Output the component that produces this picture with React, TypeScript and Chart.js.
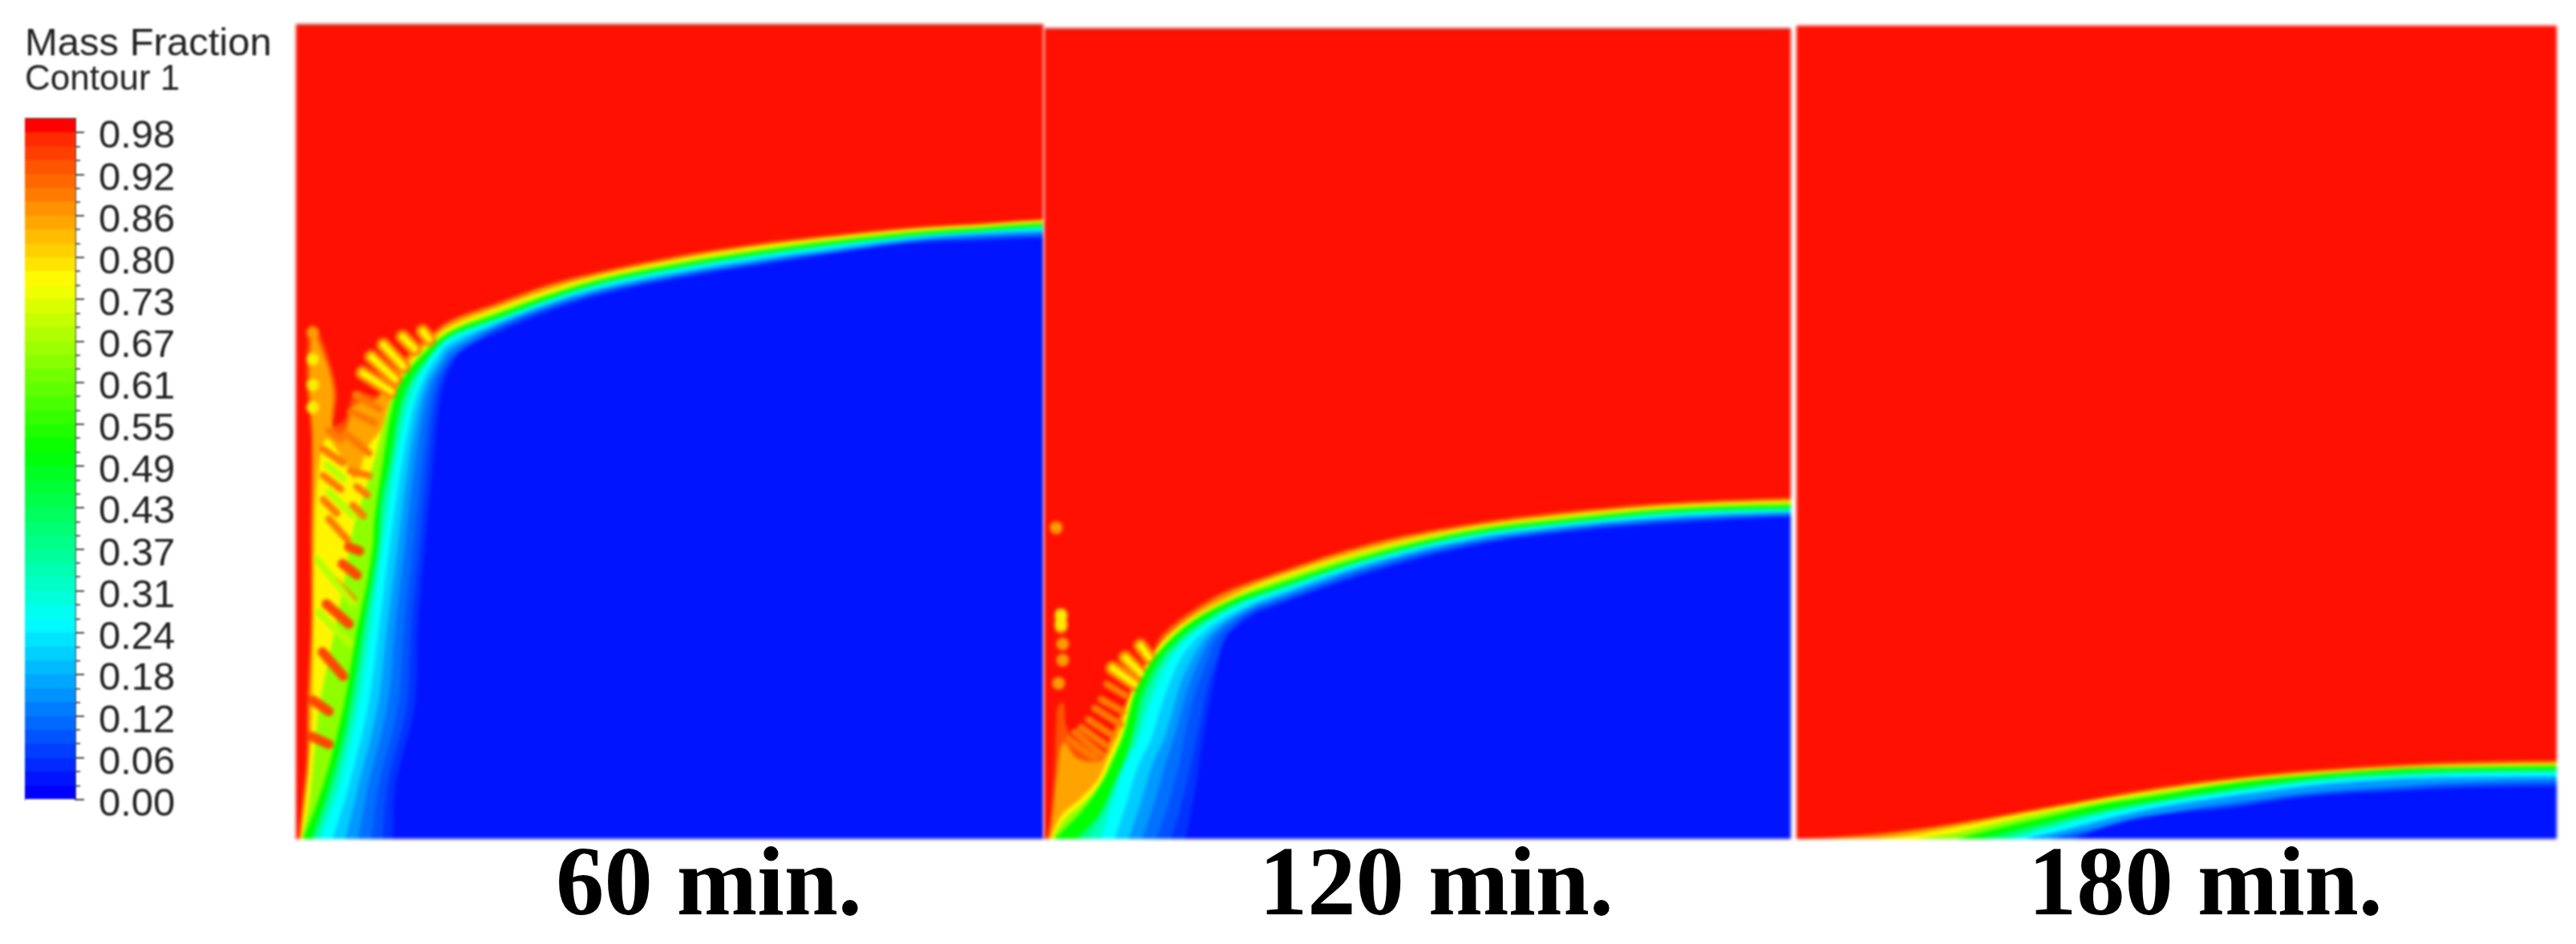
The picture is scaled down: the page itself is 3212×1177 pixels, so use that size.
import { useEffect, useRef } from 'react';
import { Chart, registerables } from 'chart.js';

Chart.register(...registerables);

type Pt = [number, number];

// colour value painted under each contour, from the outermost one inwards
const fullLevels = [0.92, 0.84, 0.76, 0.64, 0.5, 0.37, 0.31, 0.25, 0.2, 0.15, 0.11, 0.08, 0.05, 0.02];
const thinLevels = [0.92, 0.84, 0.76, 0.64, 0.5, 0.37, 0.25, 0.15, 0.08, 0.02];

// 60 min. contours, panel units measured from the bottom-left corner
const p1c97: Pt[] = [[3,1],[8,49],[13,99],[14,166],[18,266],[18,366],[19,499],[16,533],[13,566],[13,596],[16,636],[21,641],[31,626],[44,589],[51,556],[48,526],[46,516],[51,516],[61,523],[71,553],[78,559],[88,555],[101,553],[118,579],[131,594],[144,609],[161,623],[191,646],[251,669],[320,693],[385,709],[480,728],[579,743],[680,754],[773,763],[860,768],[933,773]];
const p1c88: Pt[] = [[5,1],[10,49],[15,99],[16,166],[20,266],[20,366],[21,499],[19,530],[17,560],[17,595],[20,625],[24,628],[31,612],[41,585],[47,555],[45,525],[48,505],[60,505],[72,540],[85,545],[101,548],[118,574],[131,590],[144,605],[161,620],[191,644],[251,666],[320,691],[385,707],[480,726],[579,741],[680,753],[773,762],[860,767],[933,772]];
const p1c78: Pt[] = [[6,1],[12,49],[17,99],[20,166],[22,266],[23,366],[27,450],[38,499],[61,469],[74,449],[90,490],[106,510],[113,533],[124,562],[141,594],[161,614],[191,638],[251,662],[320,686],[385,704],[480,723],[579,739],[680,751],[773,760],[860,766],[933,771]];
const p1c65: Pt[] = [[8,1],[17,49],[24,120],[30,170],[44,240],[60,320],[70,380],[88,440],[100,480],[110,520],[122,555],[138,585],[158,608],[191,634],[251,658],[320,682],[385,701],[480,720],[579,736],[680,749],[773,758],[860,764],[933,769]];
const p1c50: Pt[] = [[9,1],[28,49],[48,116],[63,183],[74,249],[88,316],[96,366],[98,399],[108,466],[119,533],[131,569],[158,603],[191,631],[251,654],[320,679],[385,698],[480,717],[579,733],[680,746],[773,756],[860,762],[933,767]];
const p1c37: Pt[] = [[20,1],[42,66],[64,150],[84,266],[102,366],[106,420],[116,466],[128,533],[141,569],[164,600],[191,627],[251,650],[320,675],[385,695],[480,714],[579,730],[680,743],[773,753],[860,759],[933,764]];
const p1c31: Pt[] = [[25,1],[48,66],[71,158],[89,266],[105,366],[110,410],[120,466],[133,533],[146,569],[166,600],[191,625],[251,648],[320,674],[385,693],[480,712],[579,728],[680,742],[773,752],[860,758],[933,762]];
const p1c25: Pt[] = [[31,1],[54,66],[78,166],[94,266],[108,366],[113,399],[124,466],[138,533],[151,569],[168,599],[191,623],[251,646],[320,672],[385,691],[480,710],[579,726],[680,740],[773,751],[860,757],[933,761]];
const p1c20: Pt[] = [[46,1],[66,66],[90,166],[104,266],[117,366],[132,466],[145,533],[157,569],[173,597],[191,618],[251,644],[320,670],[385,689],[480,708],[579,724],[680,738],[773,750],[860,756],[933,759]];
const p1c15: Pt[] = [[62,1],[78,66],[102,166],[114,266],[127,366],[140,466],[152,533],[163,569],[179,596],[191,612],[251,642],[320,668],[385,687],[480,706],[579,722],[680,736],[773,748],[860,754],[933,757]];
const p1c11: Pt[] = [[78,1],[90,66],[114,166],[124,266],[136,366],[148,466],[159,533],[169,569],[182,592],[195,609],[251,639],[320,666],[385,685],[480,704],[579,720],[680,734],[773,746],[860,752],[933,755]];
const p1c08: Pt[] = [[94,1],[103,66],[127,166],[135,266],[146,366],[157,466],[166,533],[175,569],[186,590],[198,604],[251,637],[320,664],[385,683],[480,702],[579,718],[680,733],[773,745],[860,750],[933,753]];
const p1c05: Pt[] = [[108,1],[114,66],[138,166],[144,266],[154,366],[164,466],[172,533],[180,569],[195,598],[215,614],[251,634],[320,661],[385,681],[480,701],[579,717],[680,732],[773,744],[860,748],[933,751]];
const p1c02: Pt[] = [[121,1],[124,66],[148,166],[152,266],[161,366],[171,466],[178,533],[185,569],[204,606],[231,622],[251,631],[320,659],[385,679],[480,699],[579,715],[680,731],[773,743],[860,746],[933,749]];

// 60 min. plumes
const p1Fingers: Pt[][] = [[[94,601],[124,573]],[[109,616],[134,589]],[[133,626],[148,611]],[[158,633],[166,623]],[[83,581],[119,558]]];
const p1Orange: Pt[][] = [[[74,554],[104,536]],[[41,509],[56,498]],[[34,486],[58,469]],[[34,453],[56,436]],[[34,423],[51,406]],[[41,399],[64,373]],[[71,416],[84,403]],[[76,439],[89,429]],[[61,506],[91,481]],[[68,533],[98,519]],[[68,459],[91,453]],[[48,323],[71,299]]];
const p1Red: Pt[][] = [[[66,364],[79,359]],[[58,343],[76,329]],[[38,293],[66,268]],[[33,233],[59,203]],[[21,173],[41,159]],[[19,128],[41,118]]];
const p1Lime: Pt[][] = [[[39,466],[59,449]],[[41,433],[71,403]],[[26,349],[71,293]],[[28,283],[68,243]],[[88,575],[112,562]]];
const p1OrangeDots: Pt[] = [[21,631]];
const p1YellowDots: Pt[] = [[21,598],[21,566],[21,538]];

// 120 min. contours
const p2c97: Pt[] = [[4,0],[8,26],[13,93],[15,143],[17,165],[24,170],[28,140],[42,118],[71,103],[85,133],[98,163],[108,186],[118,206],[135,233],[145,253],[171,276],[221,307],[278,328],[404,368],[530,393],[657,409],[783,419],[932,425]];
const p2c88: Pt[] = [[5,0],[10,26],[16,80],[24,120],[42,100],[71,98],[85,128],[98,157],[108,180],[118,200],[135,228],[145,246],[171,271],[221,303],[278,326],[404,366],[530,391],[657,407],[783,418],[932,424]];
const p2c78: Pt[] = [[8,0],[21,29],[48,53],[68,76],[81,106],[95,136],[105,173],[116,199],[131,223],[151,249],[185,276],[235,303],[278,322],[404,361],[530,388],[657,404],[783,415],[932,421]];
const p2c65: Pt[] = [[10,0],[25,24],[52,48],[72,72],[85,102],[98,132],[108,170],[118,196],[133,220],[153,246],[186,274],[236,301],[278,318],[404,358],[530,386],[657,402],[783,413],[932,419]];
const p2c50: Pt[] = [[13,0],[48,36],[71,69],[88,103],[101,136],[111,176],[121,199],[135,223],[155,246],[188,273],[238,299],[278,313],[404,353],[530,383],[657,399],[783,411],[932,416]];
const p2c37: Pt[] = [[40,0],[68,30],[85,65],[100,100],[112,140],[120,176],[131,200],[146,226],[166,248],[196,271],[243,296],[278,309],[404,350],[530,380],[657,396],[783,408],[932,413]];
const p2c31: Pt[] = [[55,0],[76,36],[93,80],[109,112],[120,150],[131,185],[144,213],[162,237],[185,259],[220,282],[245,295],[278,306],[404,348],[530,378],[657,394],[783,406],[932,411]];
const p2c25: Pt[] = [[71,0],[85,43],[101,93],[118,126],[128,159],[142,193],[158,226],[178,249],[205,269],[248,293],[278,304],[404,346],[530,376],[657,393],[783,404],[932,409]];
const p2c20: Pt[] = [[88,0],[102,43],[118,93],[134,126],[144,159],[156,193],[171,226],[189,249],[213,269],[253,291],[278,301],[404,344],[530,374],[657,391],[783,402],[932,408]];
const p2c15: Pt[] = [[105,0],[120,43],[135,93],[150,126],[160,159],[170,193],[185,226],[200,249],[222,269],[258,290],[278,298],[404,342],[530,373],[657,390],[783,401],[932,407]];
const p2c11: Pt[] = [[122,0],[137,43],[151,93],[162,126],[171,159],[181,193],[195,226],[207,249],[228,269],[262,289],[278,295],[404,339],[530,370],[657,388],[783,399],[932,405]];
const p2c08: Pt[] = [[140,0],[155,43],[168,93],[175,126],[182,159],[192,193],[205,226],[215,249],[235,269],[265,288],[278,292],[404,336],[530,368],[657,386],[783,397],[932,404]];
const p2c05: Pt[] = [[158,0],[171,43],[183,93],[190,126],[197,159],[204,193],[217,226],[227,249],[243,269],[270,287],[278,289],[404,333],[530,366],[657,384],[783,395],[932,402]];
const p2c02: Pt[] = [[176,0],[188,59],[198,126],[211,193],[225,249],[245,269],[271,284],[404,331],[530,364],[657,383],[783,393],[932,401]];

// 120 min. plumes
const p2Fingers: Pt[][] = [[[85,213],[113,193]],[[101,226],[121,206]],[[120,241],[131,226]]];
const p2Orange: Pt[][] = [[[78,193],[101,179]],[[71,174],[98,159]],[[63,163],[95,143]],[[55,149],[85,129]],[[46,139],[78,116]],[[38,133],[71,106]],[[31,124],[63,101]]];
const p2OrangeDots: Pt[] = [[15,388],[23,243],[23,223],[18,194],[21,280],[21,264]];
const p2YellowDots: Pt[] = [[21,278],[21,268]];

// 180 min. contours
const p3c97: Pt[] = [[8,0],[89,6],[154,13],[218,23],[283,34],[347,46],[412,58],[476,68],[541,76],[605,83],[670,88],[734,92],[799,95],[863,97],[949,98]];
const p3c88: Pt[] = [[40,0],[110,6],[170,14],[230,24],[295,36],[360,47],[425,58],[490,68],[555,76],[620,82],[685,87],[750,91],[815,94],[949,96]];
const p3c78: Pt[] = [[100,0],[150,6],[200,15],[260,27],[325,39],[390,51],[455,61],[520,70],[585,77],[650,83],[715,87],[780,90],[845,92],[949,94]];
const p3c65: Pt[] = [[150,0],[200,8],[250,20],[315,34],[380,46],[445,57],[510,66],[575,74],[640,80],[705,85],[770,88],[835,90],[949,92]];
const p3c50: Pt[] = [[199,0],[250,13],[315,28],[379,43],[444,53],[508,64],[573,73],[637,79],[702,84],[766,88],[831,89],[949,91]];
const p3c37: Pt[] = [[230,0],[280,12],[345,28],[410,41],[475,52],[540,62],[605,71],[670,78],[735,82],[800,85],[949,87]];
const p3c25: Pt[] = [[263,0],[315,14],[379,31],[444,44],[508,54],[573,63],[637,71],[702,76],[766,79],[831,82],[949,83]];
const p3c15: Pt[] = [[285,0],[330,10],[395,27],[460,41],[525,51],[590,60],[655,68],[720,73],[785,76],[949,78]];
const p3c08: Pt[] = [[315,0],[360,10],[425,25],[490,37],[555,46],[620,55],[685,61],[750,65],[815,69],[949,72]];
const p3c02: Pt[] = [[345,0],[412,23],[476,33],[541,39],[605,49],[670,56],[734,59],[831,64],[949,66]];

// colour bar
const legendEdges = [0,0.02,0.041,0.061,0.082,0.102,0.122,0.143,0.163,0.184,0.204,0.224,0.245,0.265,0.286,0.306,0.327,0.347,0.367,0.388,0.408,0.429,0.449,0.469,0.49,0.51,0.531,0.551,0.571,0.592,0.612,0.633,0.653,0.673,0.694,0.714,0.735,0.755,0.776,0.796,0.816,0.837,0.857,0.878,0.898,0.918,0.939,0.959,0.98,1];
const tickLabels = ['0.00','0.06','0.12','0.18','0.24','0.31','0.37','0.43','0.49','0.55','0.61','0.67','0.73','0.80','0.86','0.92','0.98'];
const captions = ['60 min.', '120 min.', '180 min.'];

const levelColor = (v: number) => {
   let r = 0, g = 0, b = 0;
   if (v >= 0.75) { r = 255; g = (255 * (1 - v)) / 0.25; }
   else if (v >= 0.5) { r = (255 * (v - 0.5)) / 0.25; g = 255; }
   else if (v >= 0.25) { g = 255; b = (255 * (0.5 - v)) / 0.25; }
   else { g = (255 * v) / 0.25; b = 255; }
   return `rgb(${Math.round(r)}, ${Math.round(g)}, ${Math.round(b)})`;
};

const toXY = (pts: Pt[]) => pts.map(([x, y]) => ({ x, y }));

interface PanelProps {
   left: number;
   top: number;
   width: number;
   height: number;
   levels: number[];
   contours: Pt[][];
   fingers?: Pt[][];
   orange?: Pt[][];
   red?: Pt[][];
   lime?: Pt[][];
   orangeDots?: Pt[];
   yellowDots?: Pt[];
   shade?: boolean;
}

function Panel(props: PanelProps) {
   const { left, top, width, height, levels, contours, shade } = props;
   const { fingers = [], orange = [], red = [], lime = [], orangeDots = [], yellowDots = [] } = props;
   const chartRef = useRef<HTMLCanvasElement>(null);

   useEffect(() => {
      if (!chartRef.current) return;

      const polygon = (pts: Pt[], v: number) => {
         const [x0] = pts[0];
         const lastY = pts[pts.length - 1][1];
         return {
            data: toXY([...pts, [width + 80, lastY], [width + 80, -80], [x0, -80]]),
            backgroundColor: levelColor(v),
            fill: 'shape' as const,
            borderWidth: 0,
            pointRadius: 0,
            tension: 0.35,
            capBezierPoints: false,
         };
      };
      const streak = (pts: Pt[], v: number, w: number) => ({
         data: toXY(pts),
         borderColor: levelColor(v),
         borderWidth: w,
         borderCapStyle: 'round' as const,
         fill: false,
         pointRadius: 0,
      });
      const dots = (pts: Pt[], v: number, r: number) => ({
         data: toXY(pts),
         showLine: false,
         pointRadius: r,
         pointBackgroundColor: levelColor(v),
         pointBorderWidth: 0,
      });

      // painted in list order, the green front goes over the plumes
      const layers: any[] = [
         ...contours.slice(0, 4).map((c, i) => polygon(c, levels[i])),
         ...orange.map((s) => streak(s, 0.88, 9)),
         ...red.map((s) => streak(s, 0.93, 12)),
         ...lime.map((s) => streak(s, 0.68, 9)),
         ...fingers.map((s) => streak(s, 0.87, 18)),
         ...fingers.map((s) => streak(s, 0.76, 8)),
         dots(orangeDots, 0.85, 8),
         dots(yellowDots, 0.77, 8),
         ...contours.slice(4).map((c, i) => polygon(c, levels[i + 4])),
      ];

      const chart = new Chart(chartRef.current, {
         type: 'line',
         data: { datasets: layers.map((d, i) => ({ ...d, order: -i })) },
         options: {
            animation: false,
            responsive: false,
            devicePixelRatio: 1,
            layout: { padding: 0, autoPadding: false },
            plugins: { legend: { display: false }, tooltip: { enabled: false } },
            scales: {
               x: { type: 'linear', min: 0, max: width, display: false },
               y: { type: 'linear', min: 0, max: height, display: false },
            },
         },
      });

      return () => chart.destroy();
   }, []);

   return (
      <canvas
         ref={chartRef}
         width={width}
         height={height}
         style={{
            position: 'absolute',
            left,
            top,
            width,
            height,
            background: 'rgb(255, 16, 0)',
            boxShadow: shade ? '0 -2px 0 #c4281c' : undefined,
            filter: 'blur(2.2px)',
         }}
      />
   );
}

function ColorBar() {
   const chartRef = useRef<HTMLCanvasElement>(null);

   useEffect(() => {
      if (!chartRef.current) return;

      const majorTicks = legendEdges.filter((_, i) => i % 3 === 0 && i < 49);
      const minorTicks = legendEdges.filter((_, i) => i % 3 !== 0 && i < 49);
      const bands = legendEdges.slice(0, -1).map((lo, i) => ({
         data: [[lo, legendEdges[i + 1]]],
         backgroundColor: levelColor(i === 48 ? 1 : i === 0 ? 0 : lo),
         borderWidth: 0,
         barPercentage: 1,
         categoryPercentage: 1,
         grouped: false,
      }));
      const edge = { display: true, color: '#444', width: 2 };

      const chart = new Chart(chartRef.current, {
         type: 'bar',
         data: { labels: [''], datasets: bands as any },
         options: {
            animation: false,
            responsive: false,
            devicePixelRatio: 1,
            layout: { padding: { top: 60, bottom: 60, left: 0, right: 0 } },
            plugins: { legend: { display: false }, tooltip: { enabled: false } },
            scales: {
               x: {
                  position: 'top',
                  grid: { display: false, drawTicks: false },
                  ticks: { display: false },
                  border: edge,
               },
               y: {
                  position: 'right',
                  min: 0,
                  max: 1,
                  weight: 1,
                  afterBuildTicks: (scale) => {
                     scale.ticks = majorTicks.map((value) => ({ value }));
                  },
                  afterFit: (scale) => {
                     scale.width = 146;
                  },
                  grid: { drawOnChartArea: false, color: '#444', tickLength: 11, lineWidth: 2 },
                  border: edge,
                  ticks: {
                     autoSkip: false,
                     padding: 18,
                     labelOffset: 6,
                     color: '#222',
                     font: { family: 'Liberation Sans', size: 49 },
                     callback: (_v, i) => tickLabels[i],
                  },
               },
               yMinor: {
                  position: 'right',
                  min: 0,
                  max: 1,
                  weight: 0,
                  afterBuildTicks: (scale) => {
                     scale.ticks = minorTicks.map((value) => ({ value }));
                  },
                  afterFit: (scale) => {
                     scale.width = 0;
                  },
                  grid: { drawOnChartArea: false, color: '#555', tickLength: 6, lineWidth: 2 },
                  border: { display: false },
                  ticks: { autoSkip: false, padding: 0, callback: () => '' },
               },
               yLeft: {
                  position: 'left',
                  min: 0,
                  max: 1,
                  grid: { display: false, drawTicks: false },
                  ticks: { display: false },
                  border: edge,
               },
            },
         },
      });

      return () => chart.destroy();
   }, []);

   return (
      <canvas
         ref={chartRef}
         width={209}
         height={969}
         style={{ position: 'absolute', left: 31, top: 88, width: 209, height: 969, filter: 'blur(0.9px)' }}
      />
   );
}

const captionStyle = (center: number): React.CSSProperties => ({
   position: 'absolute',
   left: center,
   top: 1037,
   transform: 'translateX(-50%) scaleX(0.98)',
   font: 'bold 123px "Liberation Serif"',
   lineHeight: '123px',
   whiteSpace: 'nowrap',
   color: '#000',
   filter: 'blur(0.6px)',
});

const captionCenters = [884, 1791, 2750];

export default function App() {
   return (
      <div style={{ position: 'absolute', left: 0, top: 0, width: 3212, height: 1177, overflow: 'hidden', background: '#fff' }}>
         <div style={{ position: 'absolute', left: 31, top: 28, font: '49px "Liberation Sans"', lineHeight: '49px', color: '#222', whiteSpace: 'nowrap', filter: 'blur(0.9px)' }}>
            Mass Fraction
         </div>
         <div style={{ position: 'absolute', left: 31, top: 75, font: '44px "Liberation Sans"', lineHeight: '44px', color: '#222', whiteSpace: 'nowrap', filter: 'blur(0.9px)' }}>
            Contour 1
         </div>
         <ColorBar />
         <Panel
            left={369} top={32} width={932} height={1014} shade levels={fullLevels}
            contours={[p1c97, p1c88, p1c78, p1c65, p1c50, p1c37, p1c31, p1c25, p1c20, p1c15, p1c11, p1c08, p1c05, p1c02]}
            fingers={p1Fingers} orange={p1Orange} red={p1Red} lime={p1Lime}
            orangeDots={p1OrangeDots} yellowDots={p1YellowDots}
         />
         <Panel
            left={1302} top={37} width={931} height={1009} shade levels={fullLevels}
            contours={[p2c97, p2c88, p2c78, p2c65, p2c50, p2c37, p2c31, p2c25, p2c20, p2c15, p2c11, p2c08, p2c05, p2c02]}
            fingers={p2Fingers} orange={p2Orange}
            orangeDots={p2OrangeDots} yellowDots={p2YellowDots}
         />
         <Panel
            left={2240} top={32} width={948} height={1014} levels={thinLevels}
            contours={[p3c97, p3c88, p3c78, p3c65, p3c50, p3c37, p3c25, p3c15, p3c08, p3c02]}
         />
         {captions.map((text, i) => (
            <div key={text} style={captionStyle(captionCenters[i])}>{text}</div>
         ))}
      </div>
   );
}
